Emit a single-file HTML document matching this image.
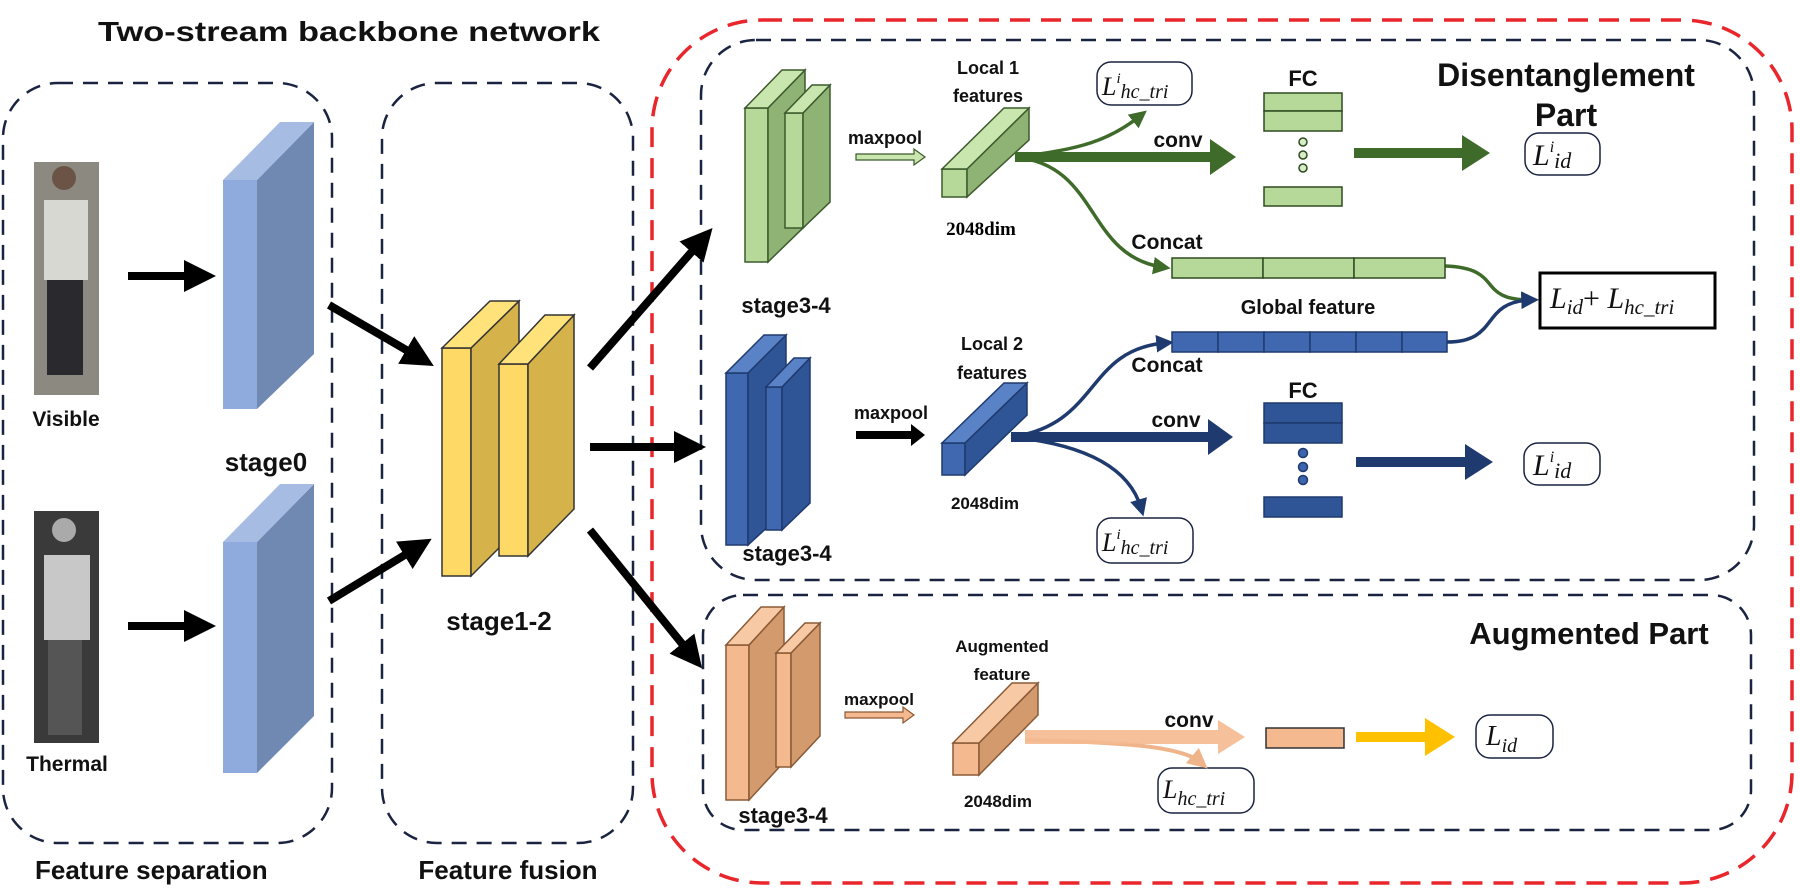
<!DOCTYPE html>
<html><head><meta charset="utf-8"><style>
html,body{margin:0;padding:0;background:#fff;}
svg{display:block;font-family:"Liberation Sans",Arial,sans-serif;}
.b{font-weight:bold;fill:#111;}
.m{font-family:"Liberation Serif",serif;font-style:italic;fill:#111;}
</style></head><body>
<svg width="1800" height="890" viewBox="0 0 1800 890" xmlns="http://www.w3.org/2000/svg">
<defs>
<marker id="ak" markerWidth="4" markerHeight="4" refX="2" refY="2" orient="auto" markerUnits="strokeWidth"><path d="M0,0L4,2L0,4z" fill="#000"/></marker>
<marker id="ag" markerWidth="5" markerHeight="5" refX="2.5" refY="2.5" orient="auto" markerUnits="strokeWidth"><path d="M0,0L5,2.5L0,5z" fill="#3f6b2a"/></marker>
<marker id="ab" markerWidth="5" markerHeight="5" refX="2.5" refY="2.5" orient="auto" markerUnits="strokeWidth"><path d="M0,0L5,2.5L0,5z" fill="#1f3a6e"/></marker>
<marker id="ao" markerWidth="5" markerHeight="5" refX="2.5" refY="2.5" orient="auto" markerUnits="strokeWidth"><path d="M0,0L5,2.5L0,5z" fill="#f0b48a"/></marker>
</defs>

<text x="98" y="41" class="b" font-size="28" textLength="502" lengthAdjust="spacingAndGlyphs">Two-stream backbone network</text>

<g fill="none" stroke="#1a2440" stroke-width="2.5" stroke-dasharray="15,10">
<rect x="3" y="83" width="329" height="760" rx="55"/>
<rect x="382" y="83" width="251" height="760" rx="55"/>
<rect x="701" y="40" width="1053" height="540" rx="55"/>
<rect x="703" y="595" width="1048" height="235" rx="40"/>
</g>
<rect x="652" y="20" width="1140" height="863" rx="110" fill="none" stroke="#e8262b" stroke-width="3.5" stroke-dasharray="20,11"/>

<!-- photos -->
<rect x="34" y="162" width="65" height="233" fill="#8c8a80"/>
<rect x="44" y="200" width="44" height="80" fill="#d8d8d2"/>
<rect x="47" y="280" width="36" height="95" fill="#2a2a2e"/>
<circle cx="64" cy="178" r="12" fill="#6b5446"/>
<text x="66" y="426" class="b" font-size="21" text-anchor="middle">Visible</text>
<rect x="34" y="511" width="65" height="232" fill="#3a3a3a"/>
<rect x="44" y="555" width="46" height="85" fill="#c8c8c8"/>
<rect x="48" y="640" width="34" height="95" fill="#555"/>
<circle cx="64" cy="530" r="12" fill="#aaa"/>
<text x="67" y="771" class="b" font-size="21" text-anchor="middle">Thermal</text>

<g stroke="#000" stroke-width="8" fill="none">
<line x1="128" y1="276" x2="200" y2="276" marker-end="url(#ak)"/>
<line x1="128" y1="626" x2="200" y2="626" marker-end="url(#ak)"/>
<line x1="329" y1="305" x2="420" y2="358" marker-end="url(#ak)"/>
<line x1="329" y1="601" x2="418" y2="547" marker-end="url(#ak)"/>
<line x1="590" y1="368" x2="702" y2="240" marker-end="url(#ak)"/>
<line x1="590" y1="447" x2="690" y2="447" marker-end="url(#ak)"/>
<line x1="590" y1="530" x2="692" y2="656" marker-end="url(#ak)"/>
</g>

<!-- stage0 slabs -->
<polygon points="223,180 257,180 257,409 223,409" fill="#8faadc"/>
<polygon points="257,180 314,122 314,354 257,409" fill="#6f89b3"/>
<polygon points="223,180 280,122 314,122 257,180" fill="#a6bce3"/>
<polygon points="223,542 257,542 257,773 223,773" fill="#8faadc"/>
<polygon points="257,542 314,484 314,716 257,773" fill="#6f89b3"/>
<polygon points="223,542 280,484 314,484 257,542" fill="#a6bce3"/>
<text x="266" y="471" class="b" font-size="26" text-anchor="middle">stage0</text>

<!-- yellow -->
<g stroke="#333" stroke-width="1.5">
<polygon points="442,348 471,348 471,576 442,576" fill="#ffd965"/>
<polygon points="471,348 519,301 519,528 471,576" fill="#d6b34a"/>
<polygon points="442,348 490,301 519,301 471,348" fill="#ffe37a"/>
<polygon points="499,364 528,364 528,556 499,556" fill="#ffd965"/>
<polygon points="528,364 574,315 574,509 528,556" fill="#d6b34a"/>
<polygon points="499,364 545,315 574,315 528,364" fill="#ffe37a"/>
</g>
<text x="499" y="630" class="b" font-size="26" text-anchor="middle">stage1-2</text>

<!-- green stage3-4 -->
<g stroke="#3c5a2c" stroke-width="1.5">
<polygon points="745,108 768,108 768,262 745,262" fill="#b6d99a"/>
<polygon points="768,108 805,70 805,226 768,262" fill="#8fb275"/>
<polygon points="745,108 782,70 805,70 768,108" fill="#c8e6ad"/>
<polygon points="785,113 803,113 803,228 785,228" fill="#b6d99a"/>
<polygon points="803,113 830,85 830,202 803,228" fill="#8fb275"/>
<polygon points="785,113 812,85 830,85 803,113" fill="#c8e6ad"/>
</g>
<text x="786" y="313" class="b" font-size="22" text-anchor="middle">stage3-4</text>

<!-- blue stage3-4 -->
<g stroke="#1f3a6e" stroke-width="1.5">
<polygon points="726,373 748,373 748,545 726,545" fill="#4068b0"/>
<polygon points="748,373 786,335 786,510 748,545" fill="#2f5597"/>
<polygon points="726,373 764,335 786,335 748,373" fill="#5a82c6"/>
<polygon points="766,387 782,387 782,530 766,530" fill="#4068b0"/>
<polygon points="782,387 810,358 810,503 782,530" fill="#2f5597"/>
<polygon points="766,387 794,358 810,358 782,387" fill="#5a82c6"/>
</g>
<text x="787" y="561" class="b" font-size="22" text-anchor="middle">stage3-4</text>

<!-- orange stage3-4 -->
<g stroke="#8a5a35" stroke-width="1.5">
<polygon points="726,645 749,645 749,800 726,800" fill="#f4b98f"/>
<polygon points="749,645 784,607 784,762 749,800" fill="#d39a6e"/>
<polygon points="726,645 761,607 784,607 749,645" fill="#f8c9a5"/>
<polygon points="776,653 791,653 791,767 776,767" fill="#f4b98f"/>
<polygon points="791,653 820,623 820,736 791,767" fill="#d39a6e"/>
<polygon points="776,653 805,623 820,623 791,653" fill="#f8c9a5"/>
</g>
<text x="783" y="823" class="b" font-size="22" text-anchor="middle">stage3-4</text>

<!-- maxpools -->
<text x="885" y="144" class="b" font-size="18" text-anchor="middle">maxpool</text>
<path d="M856,154 h58 v-5 l11,8 l-11,8 v-5 h-58z" fill="#c8e6ad" stroke="#3c5a2c" stroke-width="1.2"/>
<text x="891" y="419" class="b" font-size="18" text-anchor="middle">maxpool</text>
<path d="M856,431 h55 v-7 l14,11 l-14,11 v-7 h-55z" fill="#000"/>
<text x="879" y="705" class="b" font-size="17" text-anchor="middle">maxpool</text>
<path d="M845,712 h58 v-5 l11,8 l-11,8 v-5 h-58z" fill="#f4b98f" stroke="#8a5a35" stroke-width="1.2"/>

<!-- feature bars -->
<g stroke="#3c5a2c" stroke-width="1.5">
<polygon points="942,169 967,169 967,197 942,197" fill="#b6d99a"/>
<polygon points="967,169 1029,108 1029,140 967,197" fill="#8fb275"/>
<polygon points="942,169 1004,108 1029,108 967,169" fill="#c8e6ad"/>
</g>
<text x="988" y="74" class="b" font-size="18" text-anchor="middle">Local 1</text>
<text x="988" y="102" class="b" font-size="18" text-anchor="middle">features</text>
<text x="981" y="235" font-family="Liberation Serif,serif" font-weight="bold" font-size="19" text-anchor="middle">2048dim</text>

<g stroke="#1f3a6e" stroke-width="1.5">
<polygon points="942,443 965,443 965,475 942,475" fill="#4068b0"/>
<polygon points="965,443 1027,383 1027,415 965,475" fill="#2f5597"/>
<polygon points="942,443 1004,383 1027,383 965,443" fill="#5a82c6"/>
</g>
<text x="992" y="350" class="b" font-size="18" text-anchor="middle">Local 2</text>
<text x="992" y="379" class="b" font-size="18" text-anchor="middle">features</text>
<text x="985" y="509" class="b" font-size="17" text-anchor="middle">2048dim</text>

<g stroke="#8a5a35" stroke-width="1.5">
<polygon points="953,743 979,743 979,775 953,775" fill="#f4b98f"/>
<polygon points="979,743 1038,683 1038,715 979,775" fill="#d39a6e"/>
<polygon points="953,743 1012,683 1038,683 979,743" fill="#f8c9a5"/>
</g>
<text x="1002" y="652" class="b" font-size="17" text-anchor="middle">Augmented</text>
<text x="1002" y="680" class="b" font-size="17" text-anchor="middle">feature</text>
<text x="998" y="807" class="b" font-size="17" text-anchor="middle">2048dim</text>

<!-- green flows -->
<g fill="none" stroke="#3f6b2a" stroke-width="3.5">
<path d="M1015,157 C1080,150 1110,140 1140,116" marker-end="url(#ag)"/>
<path d="M1015,157 C1100,165 1085,255 1162,267" marker-end="url(#ag)"/>
<path d="M1445,266 C1505,268 1475,300 1530,300" marker-end="url(#ag)"/>
</g>
<path d="M1015,152 H1210 V139 L1236,157 L1210,175 V162 H1015z" fill="#3f6b2a"/>
<path d="M1354,148 H1462 V135 L1490,153 L1462,171 V158 H1354z" fill="#3f6b2a"/>
<text x="1178" y="147" class="b" font-size="21" text-anchor="middle">conv</text>
<text x="1167" y="249" class="b" font-size="21" text-anchor="middle">Concat</text>

<!-- blue flows -->
<g fill="none" stroke="#1f3a6e" stroke-width="3.5">
<path d="M1011,437 C1100,425 1085,350 1165,343" marker-end="url(#ab)"/>
<path d="M1011,437 C1090,445 1130,470 1141,508" marker-end="url(#ab)"/>
<path d="M1447,342 C1500,342 1480,302 1530,300" marker-end="url(#ab)"/>
</g>
<path d="M1011,432 H1208 V419 L1233,437 L1208,455 V442 H1011z" fill="#1f3a6e"/>
<path d="M1356,457 H1465 V444 L1493,462 L1465,480 V467 H1356z" fill="#1f3a6e"/>
<text x="1176" y="427" class="b" font-size="21" text-anchor="middle">conv</text>
<text x="1167" y="372" class="b" font-size="21" text-anchor="middle">Concat</text>

<!-- FC green -->
<text x="1303" y="86" class="b" font-size="22" text-anchor="middle">FC</text>
<g stroke="#2e4a1f" stroke-width="1.5" fill="#b6d99a">
<rect x="1264" y="93" width="78" height="18"/><rect x="1264" y="111" width="78" height="20"/>
<rect x="1264" y="187" width="78" height="19"/>
<circle cx="1303" cy="142" r="4" fill="#d8ecc8"/><circle cx="1303" cy="155" r="4" fill="#d8ecc8"/><circle cx="1303" cy="168" r="4" fill="#d8ecc8"/>
</g>
<!-- FC blue -->
<text x="1303" y="398" class="b" font-size="22" text-anchor="middle">FC</text>
<g stroke="#1f3a6e" stroke-width="1.5" fill="#2f5597">
<rect x="1264" y="403" width="78" height="20"/><rect x="1264" y="423" width="78" height="20"/>
<rect x="1264" y="497" width="78" height="20"/>
<circle cx="1303" cy="453" r="4.5" fill="#3d64ad"/><circle cx="1303" cy="467" r="4.5" fill="#3d64ad"/><circle cx="1303" cy="480" r="4.5" fill="#3d64ad"/>
</g>

<!-- concat bars -->
<g stroke="#2e4a1f" stroke-width="1.5" fill="#b6d99a">
<rect x="1172" y="258" width="91" height="20"/><rect x="1263" y="258" width="91" height="20"/><rect x="1354" y="258" width="91" height="20"/>
</g>
<text x="1308" y="314" class="b" font-size="20" text-anchor="middle">Global feature</text>
<g stroke="#1f3a6e" stroke-width="1.5" fill="#4068b0">
<rect x="1172" y="332" width="46" height="20"/><rect x="1218" y="332" width="46" height="20"/><rect x="1264" y="332" width="46" height="20"/><rect x="1310" y="332" width="46" height="20"/><rect x="1356" y="332" width="46" height="20"/><rect x="1402" y="332" width="45" height="20"/>
</g>

<!-- loss boxes -->
<g fill="#fff" stroke="#1a2440" stroke-width="1.5">
<rect x="1097" y="62" width="95" height="43" rx="14"/>
<rect x="1525" y="133" width="75" height="42" rx="14"/>
<rect x="1524" y="443" width="76" height="42" rx="14"/>
<rect x="1097" y="518" width="96" height="45" rx="14"/>
<rect x="1158" y="768" width="96" height="45" rx="14"/>
<rect x="1476" y="715" width="77" height="43" rx="14"/>
</g>
<rect x="1540" y="273" width="175" height="55" fill="#fff" stroke="#000" stroke-width="3"/>
<text x="1102" y="95" class="m" font-size="26">L<tspan font-size="15" dy="-12">i</tspan><tspan font-size="20" dy="15">hc_tri</tspan></text>
<text x="1533" y="165" class="m" font-size="30">L<tspan font-size="16" dy="-13">i</tspan><tspan font-size="22" dy="16">id</tspan></text>
<text x="1533" y="475" class="m" font-size="30">L<tspan font-size="16" dy="-13">i</tspan><tspan font-size="22" dy="16">id</tspan></text>
<text x="1102" y="551" class="m" font-size="26">L<tspan font-size="15" dy="-12">i</tspan><tspan font-size="20" dy="15">hc_tri</tspan></text>
<text x="1163" y="798" class="m" font-size="26">L<tspan font-size="20" dy="7">hc_tri</tspan></text>
<text x="1486" y="745" class="m" font-size="28">L<tspan font-size="20" dy="7">id</tspan></text>
<text x="1550" y="308" class="m" font-size="30">L<tspan font-size="21" dy="6">id</tspan><tspan dy="-6" font-style="normal">+ </tspan>L<tspan font-size="21" dy="6">hc_tri</tspan></text>

<!-- orange flows -->
<path d="M1025,740 C1110,742 1180,745 1200,762" fill="none" stroke="#f0b48a" stroke-width="4" marker-end="url(#ao)"/>
<path d="M1025,730 H1218 V720 L1245,737 L1218,754 V744 H1025z" fill="#f4b98f" opacity="0.9"/>
<text x="1189" y="727" class="b" font-size="21" text-anchor="middle">conv</text>
<rect x="1266" y="728" width="78" height="20" fill="#f4b98f" stroke="#333" stroke-width="1.5"/>
<path d="M1356,732 H1425 V718 L1455,737 L1425,756 V742 H1356z" fill="#ffc000"/>

<text x="1566" y="86" class="b" font-size="32" text-anchor="middle">Disentanglement</text>
<text x="1566" y="126" class="b" font-size="32" text-anchor="middle">Part</text>
<text x="1589" y="644" class="b" font-size="31" text-anchor="middle">Augmented Part</text>

<text x="35" y="879" class="b" font-size="26">Feature separation</text>
<text x="508" y="879" class="b" font-size="26" text-anchor="middle">Feature fusion</text>
</svg>
</body></html>
